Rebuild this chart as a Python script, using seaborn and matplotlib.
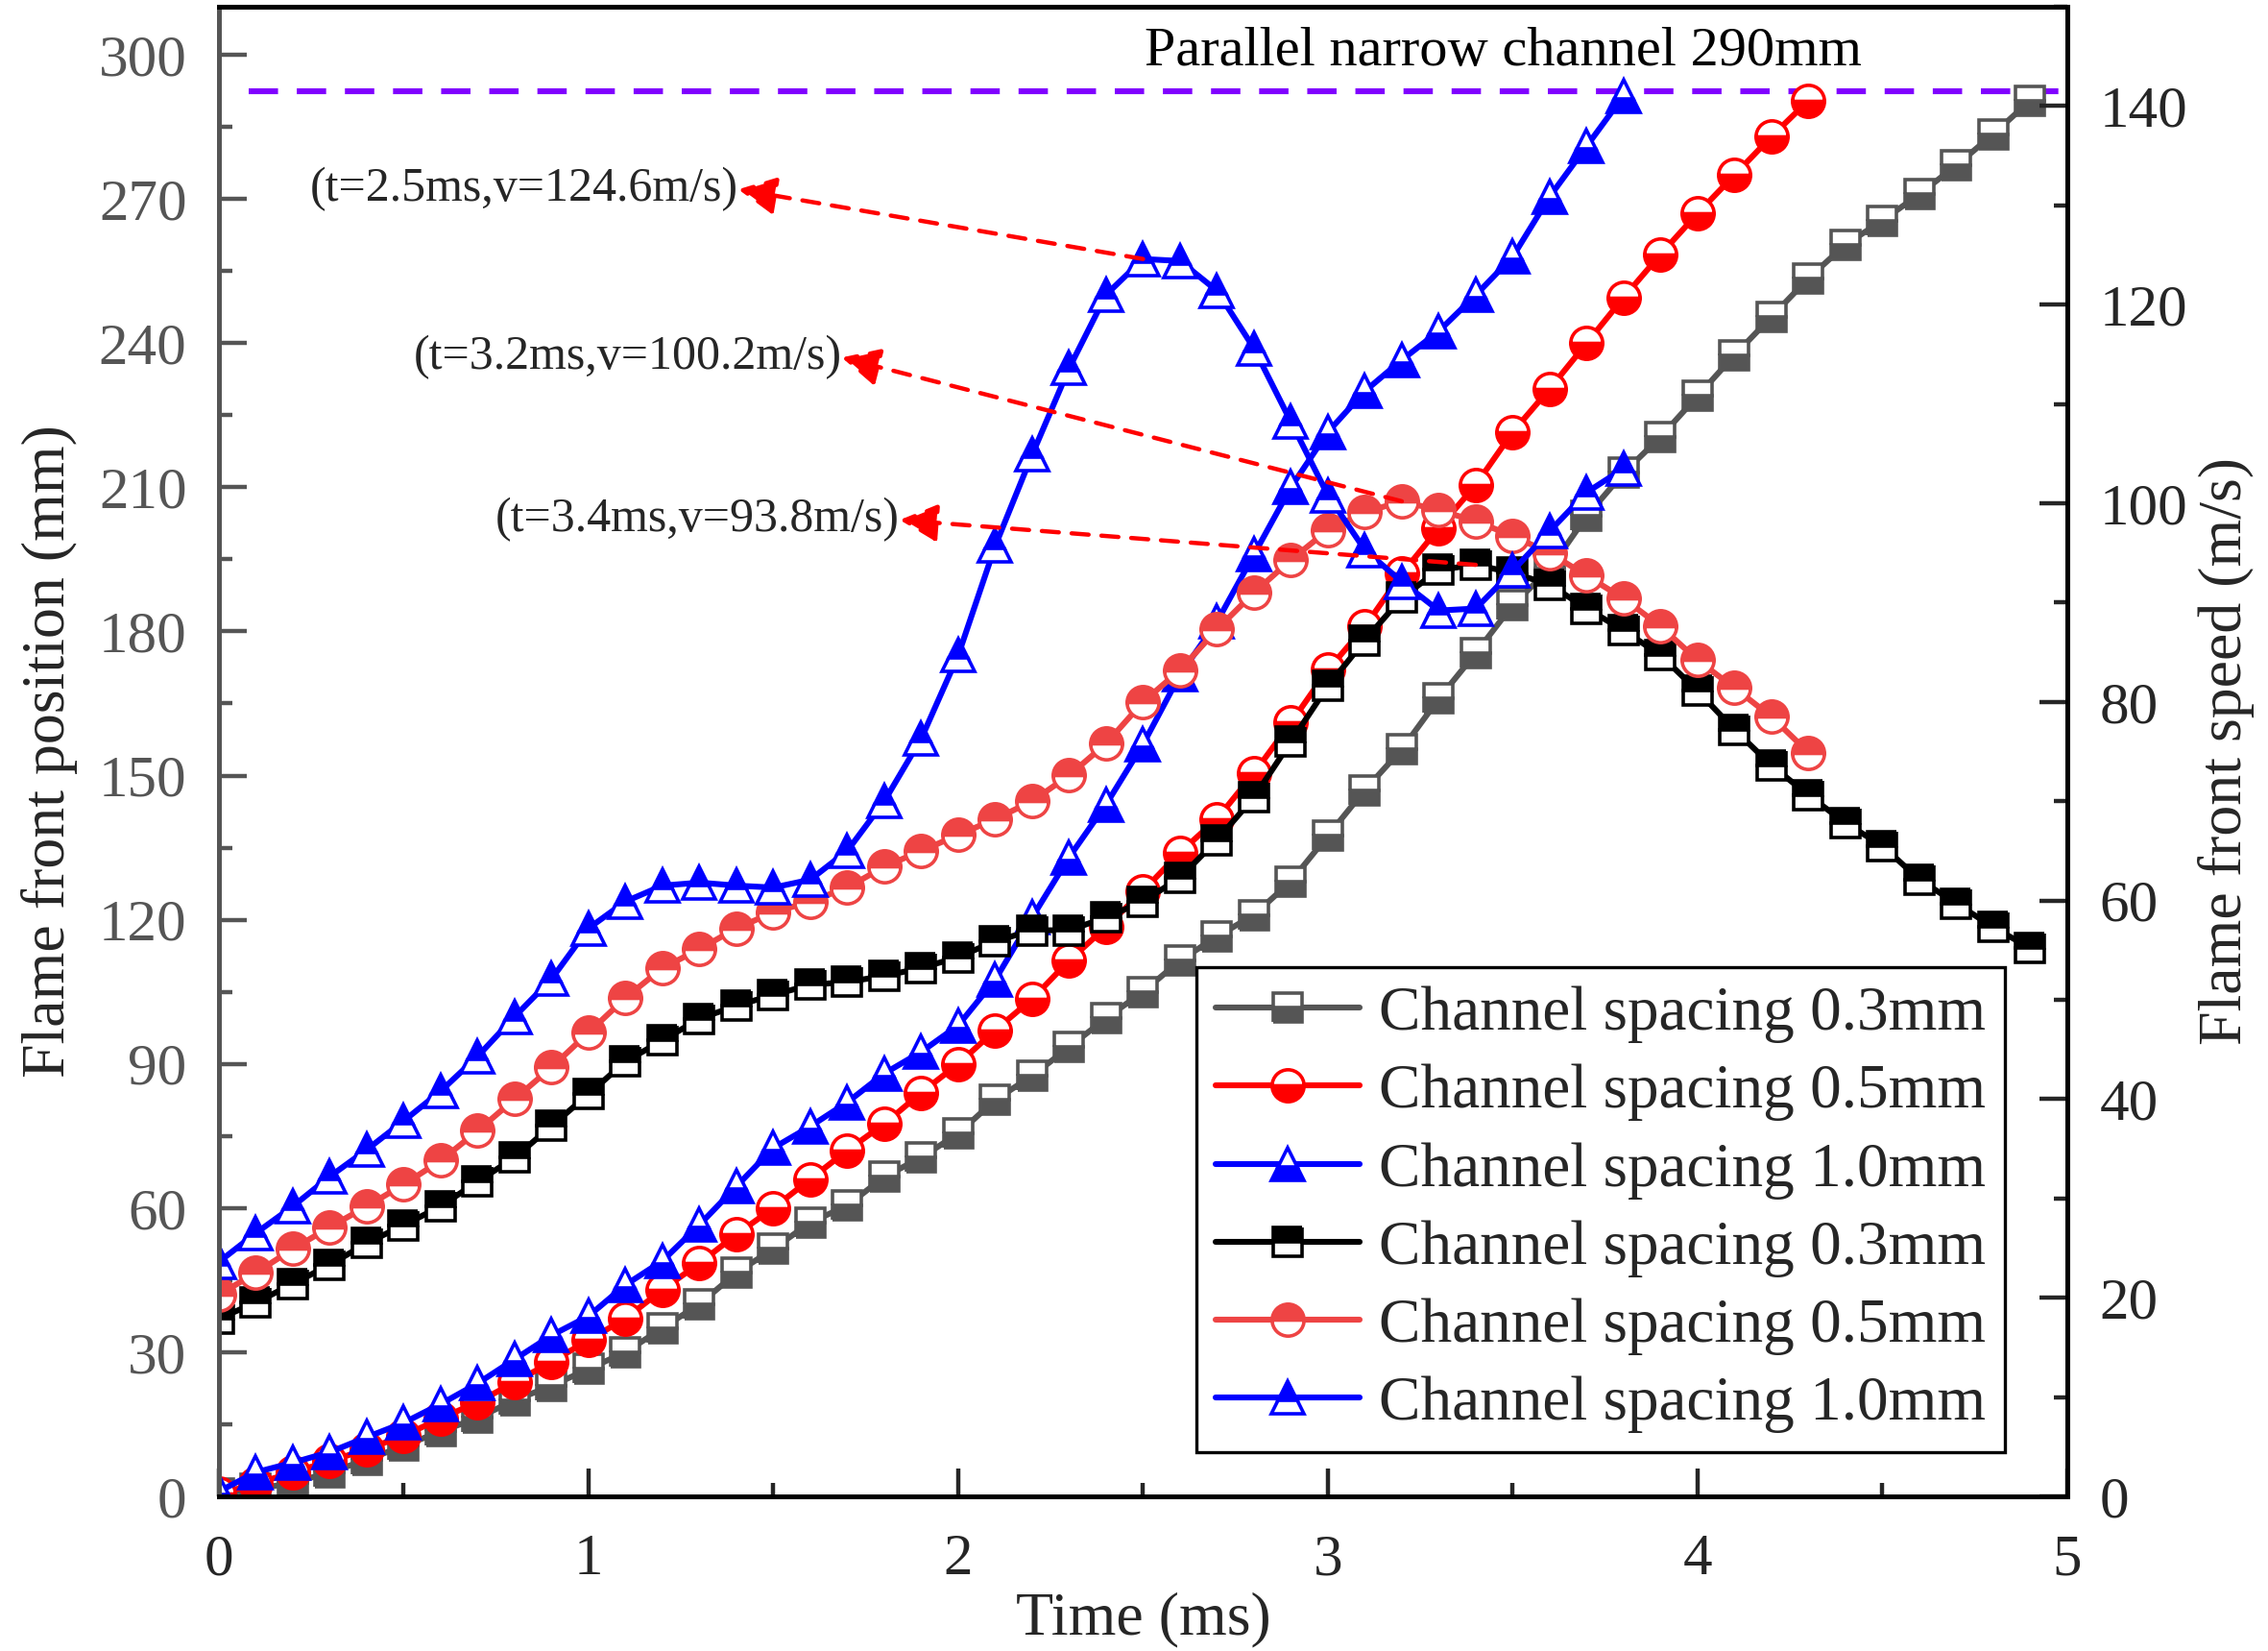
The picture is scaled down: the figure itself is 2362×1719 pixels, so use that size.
import numpy as np
import pandas as pd
import matplotlib
matplotlib.use('Agg')
import matplotlib.pyplot as plt
from matplotlib.ticker import MultipleLocator
import seaborn as sns

sns.set_style('ticks')
plt.rcParams['font.family'] = ['Liberation Serif', 'DejaVu Serif']

# =============================================================
# DATA
# =============================================================
time_ms = [0.0, 0.1, 0.2, 0.3, 0.4, 0.5, 0.6, 0.7, 0.8, 0.9,
           1.0, 1.1, 1.2, 1.3, 1.4, 1.5, 1.6, 1.7, 1.8, 1.9,
           2.0, 2.1, 2.2, 2.3, 2.4, 2.5, 2.6, 2.7, 2.8, 2.9,
           3.0, 3.1, 3.2, 3.3, 3.4, 3.5, 3.6, 3.7, 3.8, 3.9,
           4.0, 4.1, 4.2, 4.3, 4.4, 4.5, 4.6, 4.7, 4.8, 4.9]

# flame front position (mm), left axis
pos_03 = [0.5, 1.5, 2.8, 5.0, 7.6, 10.5, 13.5, 16.3, 20.0, 23.0,
          26.5, 30.0, 35.0, 40.0, 46.5, 51.5, 57.0, 60.5, 66.5, 70.5,
          75.5, 82.5, 87.5, 93.5, 99.5, 105.0, 111.5, 116.5, 121.0, 128.0,
          137.5, 147.0, 155.5, 166.0, 175.5, 185.5, 193.0, 204.0, 213.0, 220.5,
          229.0, 237.5, 245.5, 253.5, 260.5, 265.5, 271.0, 277.0, 283.5, 290.5]
pos_05 = [0.5, 2.6, 5.0, 7.3, 9.8, 12.6, 16.2, 19.6, 23.7, 28.0,
          32.5, 37.0, 43.0, 48.5, 54.5, 60.0, 66.0, 72.0, 77.5, 84.0,
          90.0, 97.0, 103.5, 111.5, 118.5, 126.0, 134.0, 141.0, 150.5, 161.0,
          172.0, 181.0, 192.0, 201.5, 210.5, 221.5, 230.5, 240.0, 249.5, 258.5,
          267.0, 275.0, 283.0, 290.5]
pos_10 = [1.0, 5.0, 7.0, 9.2, 12.3, 15.3, 19.2, 23.5, 28.5, 33.5,
          37.5, 44.0, 49.0, 56.5, 64.5, 72.5, 77.0, 82.0, 88.0, 92.5,
          98.0, 107.5, 120.5, 133.0, 144.0, 156.5, 171.0, 182.0, 196.0, 210.0,
          221.5, 230.0, 236.5, 242.5, 250.0, 258.0, 270.5, 281.0, 291.5]

# flame front speed (m/s), right axis
spd_03 = [17.9, 19.5, 21.4, 23.3, 25.5, 27.3, 29.2, 31.7, 34.1, 37.3,
          40.5, 43.8, 45.9, 48.1, 49.4, 50.5, 51.5, 51.8, 52.4, 53.2,
          54.3, 55.9, 57.0, 57.0, 58.3, 59.9, 62.3, 66.1, 70.4, 76.0,
          81.6, 86.2, 90.5, 93.3, 93.8, 93.0, 91.8, 89.4, 87.2, 84.7,
          81.1, 77.2, 73.6, 70.6, 67.8, 65.5, 62.1, 59.7, 57.3, 55.2]
spd_05 = [20.3, 22.5, 24.9, 27.1, 29.2, 31.4, 33.8, 36.8, 40.0, 43.2,
          46.7, 50.2, 53.2, 55.1, 57.2, 58.8, 59.9, 61.3, 63.4, 65.0,
          66.6, 68.2, 70.0, 72.6, 75.8, 80.0, 83.2, 87.3, 91.0, 94.3,
          97.3, 99.1, 100.2, 99.3, 98.2, 96.7, 95.0, 92.7, 90.4, 87.6,
          84.2, 81.4, 78.5, 74.9]
spd_10 = [23.6, 26.5, 29.2, 32.2, 34.9, 37.8, 40.8, 44.3, 48.3, 52.1,
          57.2, 59.9, 61.5, 61.8, 61.5, 61.3, 62.1, 65.0, 70.0, 76.3,
          84.7, 95.7, 104.9, 113.6, 121.0, 124.6, 124.4, 121.4, 115.6, 108.2,
          100.8, 95.3, 92.1, 89.2, 89.4, 93.2, 97.2, 101.1, 103.5]

labels = ['Channel spacing 0.3mm', 'Channel spacing 0.5mm', 'Channel spacing 1.0mm']

# annotated speed peaks: (time, speed, label)
peak_times = [2.5, 3.2, 3.4]
peak_speeds = [124.6, 100.2, 93.8]
peak_texts = ['(t=2.5ms,v=124.6m/s)', '(t=3.2ms,v=100.2m/s)', '(t=3.4ms,v=93.8m/s)']
channel_len = 292.5

# =============================================================
# FIGURE
# =============================================================
fig, ax = plt.subplots(figsize=(11.81, 8.595), dpi=200)
fig.subplots_adjust(left=0.0965, right=0.9115, bottom=0.0937, top=0.9959)
ax2 = ax.twinx()

GRAY = '#555555'
series = [
    (ax,  pos_03, GRAY,      's', 'bottom', 10.5, labels[0]),
    (ax,  pos_05, '#ff0000', 'o', 'bottom', 12.0, labels[1]),
    (ax,  pos_10, '#0000ff', '^', 'bottom', 12.5, labels[2]),
    (ax2, spd_03, '#000000', 's', 'top',    10.5, labels[0]),
    (ax2, spd_05, '#ee4444', 'o', 'top',    12.0, labels[1]),
    (ax2, spd_10, '#0000ff', '^', 'top',    12.5, labels[2]),
]

handles = []
for a, vals, col, mk, fs, ms, lab in series:
    df = pd.DataFrame({'t': time_ms[:len(vals)], 'v': vals})
    n_before = len(a.lines)
    sns.lineplot(data=df, x='t', y='v', ax=a, color=col, lw=2.2,
                 marker=mk, markersize=ms, fillstyle=fs,
                 markerfacecolor=col, markerfacecoloralt='white',
                 markeredgecolor=col, markeredgewidth=1.3,
                 errorbar=None, legend=False)
    handles.append(a.lines[n_before])
for h, (_, _, _, _, _, _, lab) in zip(handles, series):
    h.set_label(lab)

# channel length line
ax.axhline(channel_len, xmin=0.016, xmax=1, color='#8000ff', lw=2.2,
           ls=(0, (5, 3.2)), zorder=1)
ax.text(3.475, 300.6, 'Parallel narrow channel 290mm', fontsize=21,
        ha='center', va='center', color='black')

# peak annotations
text_pos = [(1.405, 272), (1.685, 237), (1.842, 203.2)]
for tp, sp, txt, (tx, ty) in zip(peak_times, peak_speeds, peak_texts, text_pos):
    ax.text(tx, ty, txt, fontsize=18, ha='right', va='center')
    ax2.annotate('', xy=(tx, ty), xycoords=ax.transData,
                 xytext=(tp, sp), textcoords='data',
                 arrowprops=dict(arrowstyle='-|>', color='red', lw=1.6,
                                 ls=(0, (4, 3)), shrinkA=0, shrinkB=0,
                                 mutation_scale=30))

# axes limits and ticks
ax.set_xlim(0, 5)
ax.set_ylim(0, 310)
ax2.set_ylim(0, 150)
ax.xaxis.set_major_locator(MultipleLocator(1))
ax.xaxis.set_minor_locator(MultipleLocator(0.5))
ax.yaxis.set_major_locator(MultipleLocator(30))
ax.yaxis.set_minor_locator(MultipleLocator(15))
ax2.yaxis.set_major_locator(MultipleLocator(20))
ax2.yaxis.set_minor_locator(MultipleLocator(10))

ax.tick_params(axis='both', which='both', direction='in', top=False, right=False)
ax.tick_params(axis='both', which='major', length=10.5, width=1.6, labelsize=22, pad=12)
ax.tick_params(axis='both', which='minor', length=5, width=1.6)
ax.tick_params(axis='y', which='both', color=GRAY, labelcolor=GRAY)
ax.tick_params(axis='x', which='major', pad=14)
ax2.tick_params(axis='y', which='both', direction='in')
ax2.tick_params(axis='y', which='major', length=10.5, width=1.6, labelsize=22, pad=12)
ax2.tick_params(axis='y', which='minor', length=5, width=1.6)

for a in (ax, ax2):
    for side in ['top', 'bottom', 'right']:
        a.spines[side].set_color('black')
        a.spines[side].set_linewidth(1.8)
    a.spines['left'].set_color(GRAY)
    a.spines['left'].set_linewidth(1.8)

ax.set_xlabel('Time (ms)', fontsize=23, labelpad=2)
ax.set_ylabel('Flame front position (mm)', fontsize=23, labelpad=8)
ax2.set_ylabel('Flame front speed (m/s)', fontsize=23, labelpad=4)

leg = ax2.legend(handles=handles, loc='lower right',
                 bbox_to_anchor=(0.966, 0.0297), fontsize=23.5,
                 frameon=True, fancybox=False, edgecolor='black',
                 framealpha=1, handlelength=2.3, handletextpad=0.3,
                 labelspacing=0.33, borderpad=0.3, borderaxespad=0)
leg.get_frame().set_linewidth(1.2)

fig.savefig('out.png', dpi=200)
